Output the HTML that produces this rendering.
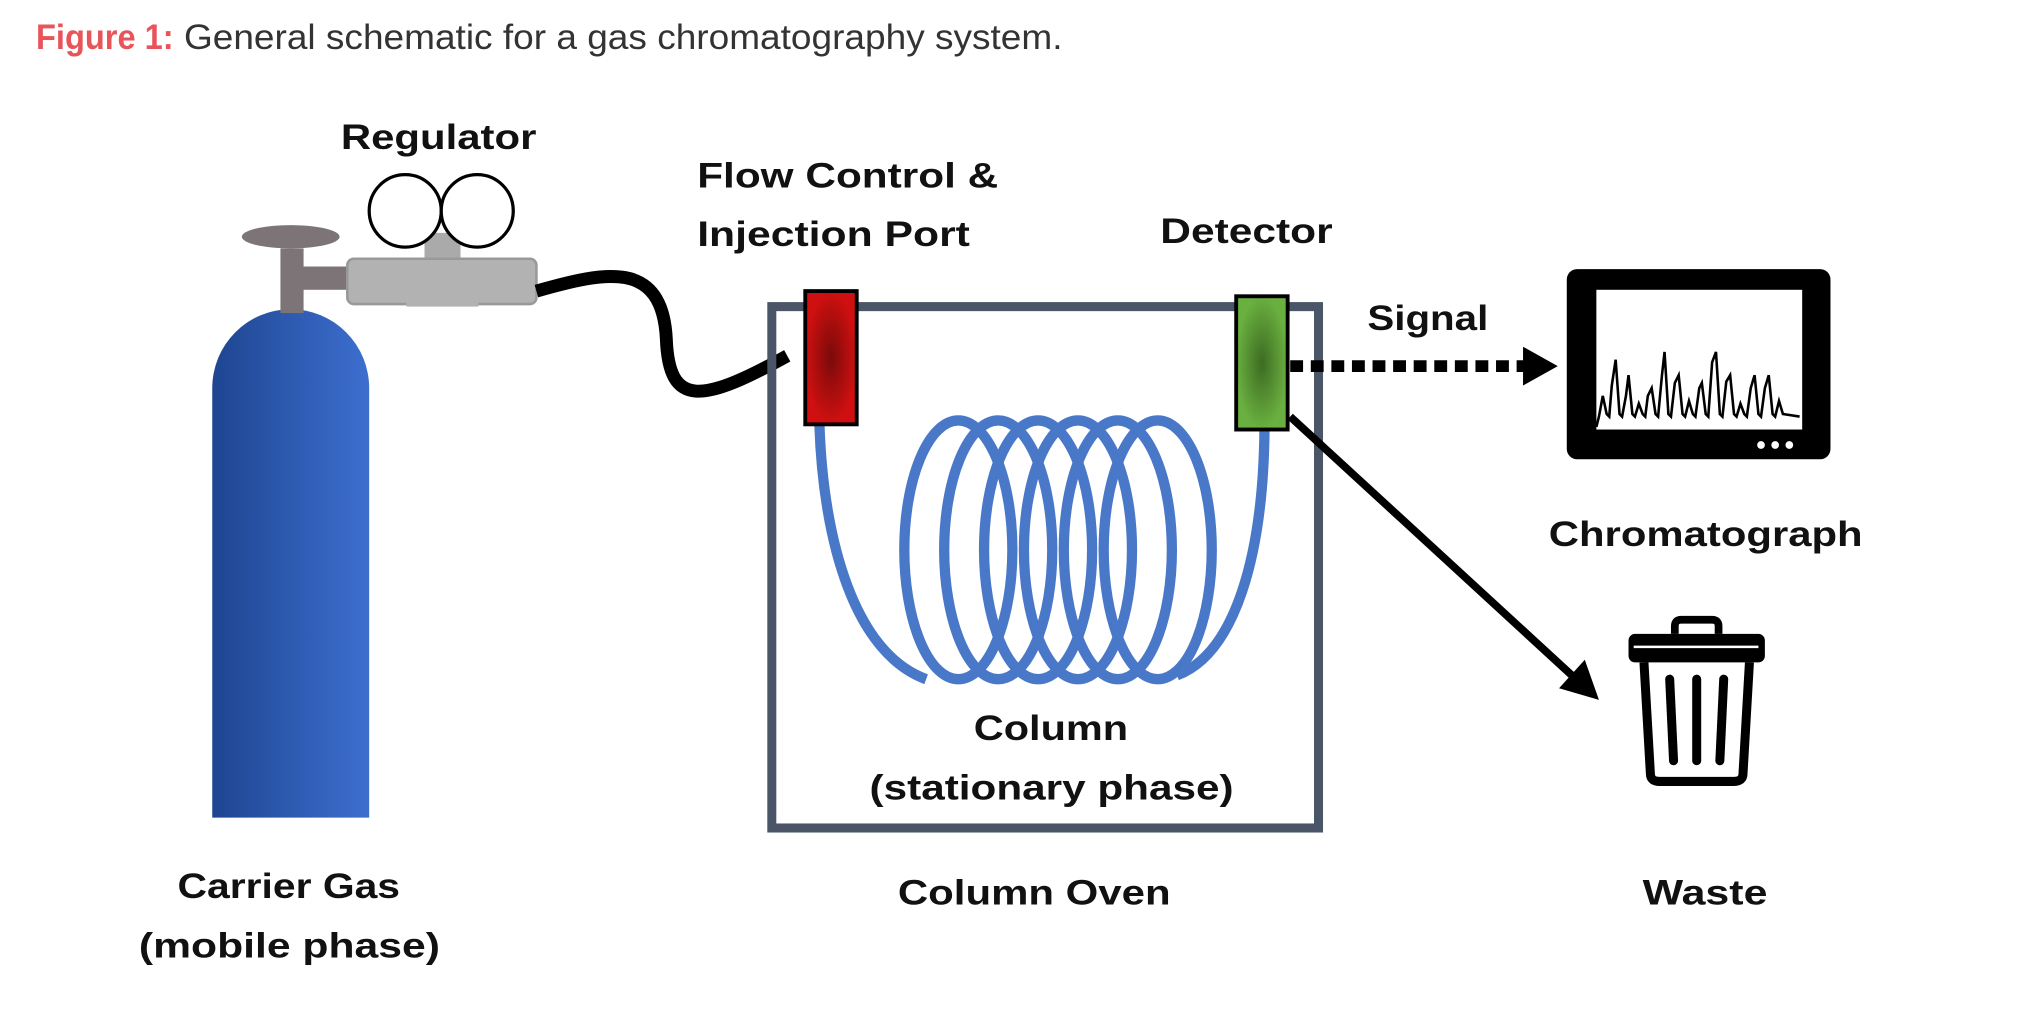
<!DOCTYPE html>
<html><head><meta charset="utf-8"><style>
html,body{margin:0;padding:0;background:#fff;}
svg{display:block;}
text{font-family:"Liberation Sans",sans-serif;}
.l{font-weight:bold;font-size:27px;fill:#111;}
</style></head><body>
<svg width="2017" height="1013" viewBox="0 0 1568 783" preserveAspectRatio="none" xmlns="http://www.w3.org/2000/svg">
<defs>
<linearGradient id="cyl" x1="0" x2="1" y1="0" y2="0"><stop offset="0" stop-color="#1e4590"/><stop offset="1" stop-color="#3d6fd0"/></linearGradient>
<radialGradient id="red"><stop offset="0" stop-color="#7a0a0a"/><stop offset="1" stop-color="#d01010"/></radialGradient>
<radialGradient id="grn"><stop offset="0" stop-color="#3d6b22"/><stop offset="1" stop-color="#6ab040"/></radialGradient>
</defs>
<text x="28" y="38" font-size="27" font-weight="bold" fill="#e8545a" textLength="107" lengthAdjust="spacingAndGlyphs">Figure 1:</text>
<text x="143" y="38" font-size="27" fill="#333" textLength="683" lengthAdjust="spacingAndGlyphs">General schematic for a gas chromatography system.</text>

<path d="M165 632 V300 A61 61 0 0 1 287 300 V632 Z" fill="url(#cyl)"/>
<rect x="218" y="192" width="18" height="50" fill="#7d7477"/>
<rect x="234" y="206" width="42" height="18" fill="#7d7477"/>
<ellipse cx="226" cy="183" rx="38" ry="9" fill="#7d7477"/>
<rect x="330" y="180" width="28" height="28" fill="#aaa"/>
<rect x="270" y="200" width="147" height="35" rx="5" fill="#b2b2b2" stroke="#999" stroke-width="2"/>
<rect x="316" y="225" width="56" height="12" fill="#b2b2b2"/>
<circle cx="315" cy="163" r="28" fill="#fff" stroke="#000" stroke-width="2.5"/>
<circle cx="371" cy="163" r="28" fill="#fff" stroke="#000" stroke-width="2.5"/>
<path d="M417 225 C470 210 515 200 518 262 C520 315 545 312 612 275" fill="none" stroke="#000" stroke-width="10"/>
<rect x="600" y="237" width="425" height="403" fill="none" stroke="#4a5568" stroke-width="7"/>
<g fill="none" stroke="#4a78c8" stroke-width="8">
<path d="M637 328 C640 420 665 505 720 525"/>
<path d="M983 332 C982 430 960 505 915 522"/>
<ellipse cx="745" cy="425" rx="42" ry="100"/>
<ellipse cx="776" cy="425" rx="42" ry="100"/>
<ellipse cx="807" cy="425" rx="42" ry="100"/>
<ellipse cx="838" cy="425" rx="42" ry="100"/>
<ellipse cx="869" cy="425" rx="42" ry="100"/>
<ellipse cx="900" cy="425" rx="42" ry="100"/>
</g>
<rect x="626" y="225" width="40" height="103" fill="url(#red)" stroke="#000" stroke-width="3"/>
<rect x="961" y="229" width="40" height="103" fill="url(#grn)" stroke="#000" stroke-width="3"/>
<line x1="1003" y1="283" x2="1186" y2="283" stroke="#000" stroke-width="9" stroke-dasharray="10,6"/>
<polygon points="1184,268 1211,283 1184,298" fill="#000"/>
<line x1="1003" y1="322" x2="1222" y2="522" stroke="#000" stroke-width="6"/>
<polygon points="1243,541 1212,532 1232,510" fill="#000"/>
<rect x="1218" y="208" width="205" height="147" rx="8" fill="#000"/>
<rect x="1241" y="224" width="160" height="108" fill="#fff"/>
<polyline fill="none" stroke="#000" stroke-width="2" points="1241,330 1243,322 1246,306 1249,320 1251,322 1253,298 1256,278 1259,320 1261,322 1264,306 1266,290 1269,320 1271,322 1274,312 1277,320 1279,322 1281,306 1284,300 1287,320 1289,322 1292,290 1294,272 1297,320 1299,322 1302,296 1305,290 1308,320 1310,322 1313,310 1316,320 1318,322 1321,300 1323,296 1326,320 1328,322 1331,280 1334,272 1337,320 1339,322 1342,295 1345,290 1348,320 1350,322 1353,312 1356,320 1358,322 1361,300 1364,290 1367,320 1369,322 1372,300 1375,290 1378,320 1380,322 1383,310 1386,320 1399,322"/>
<circle cx="1369" cy="344" r="3" fill="#fff"/><circle cx="1380" cy="344" r="3" fill="#fff"/><circle cx="1391" cy="344" r="3" fill="#fff"/>
<path d="M1302 490 V484 Q1302 479 1307 479 H1331 Q1336 479 1336 484 V490" fill="none" stroke="#000" stroke-width="6"/>
<rect x="1266" y="490" width="106" height="22" rx="5" fill="#000"/>
<line x1="1270" y1="500" x2="1367" y2="500" stroke="#fff" stroke-width="2"/>
<path d="M1278 512 L1283 598 Q1283 604 1290 604 H1348 Q1355 604 1355 598 L1360 512" fill="none" stroke="#000" stroke-width="7"/>
<g stroke="#000" stroke-width="7" stroke-linecap="round"><line x1="1298" y1="525" x2="1301" y2="588"/><line x1="1319" y1="525" x2="1319" y2="588"/><line x1="1340" y1="525" x2="1337" y2="588"/></g>

<text class="l" x="265" y="115" textLength="152" lengthAdjust="spacingAndGlyphs">Regulator</text>
<text class="l" x="542" y="145" textLength="234" lengthAdjust="spacingAndGlyphs">Flow Control &amp;</text>
<text class="l" x="542" y="190" textLength="212" lengthAdjust="spacingAndGlyphs">Injection Port</text>
<text class="l" x="902" y="188" textLength="134" lengthAdjust="spacingAndGlyphs">Detector</text>
<text class="l" x="1063" y="255" textLength="94" lengthAdjust="spacingAndGlyphs">Signal</text>
<text class="l" x="1204" y="422" textLength="244" lengthAdjust="spacingAndGlyphs">Chromatograph</text>
<text class="l" x="757" y="572" textLength="120" lengthAdjust="spacingAndGlyphs">Column</text>
<text class="l" x="676" y="618" textLength="283" lengthAdjust="spacingAndGlyphs">(stationary phase)</text>
<text class="l" x="138" y="694" textLength="173" lengthAdjust="spacingAndGlyphs">Carrier Gas</text>
<text class="l" x="108" y="740" textLength="234" lengthAdjust="spacingAndGlyphs">(mobile phase)</text>
<text class="l" x="698" y="699" textLength="212" lengthAdjust="spacingAndGlyphs">Column Oven</text>
<text class="l" x="1277" y="699" textLength="97" lengthAdjust="spacingAndGlyphs">Waste</text>
</svg>
</body></html>
